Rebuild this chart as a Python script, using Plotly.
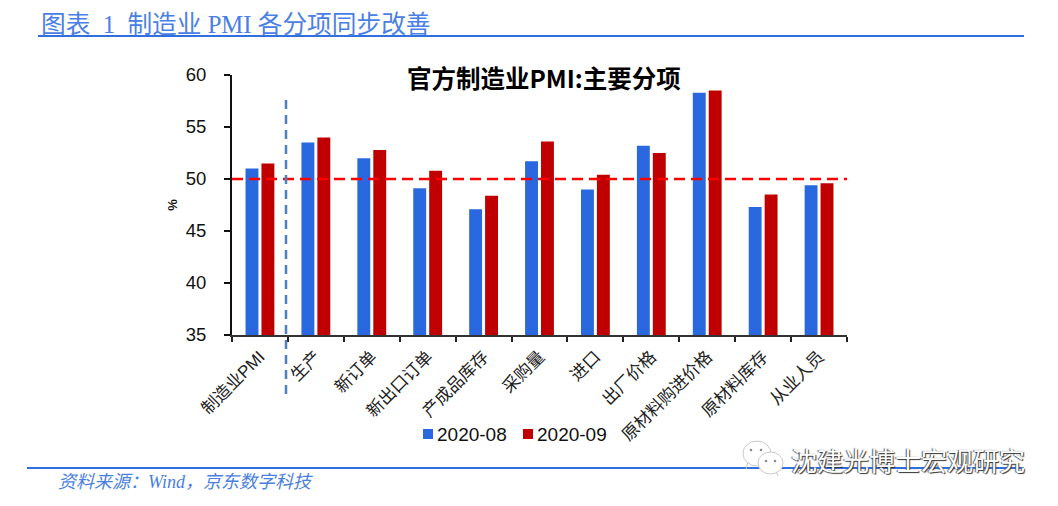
import plotly.graph_objects as go

WIDTH, HEIGHT = 1058, 506
LEFT, RIGHT, TOP, BOTTOM = 232, 847, 75, 335

categories = ["制造业PMI", "生产", "新订单", "新出口订单", "产成品库存", "采购量",
              "进口", "出厂价格", "原材料购进价格", "原材料库存", "从业人员"]
pmi_2020_08 = [51.0, 53.5, 52.0, 49.1, 47.1, 51.7, 49.0, 53.2, 58.3, 47.3, 49.4]
pmi_2020_09 = [51.5, 54.0, 52.8, 50.8, 48.4, 53.6, 50.4, 52.5, 58.5, 48.5, 49.6]
series_names = ["2020-08", "2020-09"]
threshold = 50

BLUE = "#2968DE"
RED = "#C00000"
RULE = "#2F6FDE"
CJK = "Noto Sans CJK SC"
LATIN = "Liberation Sans"


def px(x):
    return (x - LEFT) / (RIGHT - LEFT)


def py(y):
    return (BOTTOM - y) / (BOTTOM - TOP)


fig = go.Figure()
fig.add_bar(name=series_names[0], x=categories, y=pmi_2020_08, marker=dict(color=BLUE, line_width=0))
fig.add_bar(name=series_names[1], x=categories, y=pmi_2020_09, marker=dict(color=RED, line_width=0))


def paper_line(x0, y0, x1, y1, color, width, dash="solid"):
    return dict(type="line", xref="paper", yref="paper", x0=px(x0), x1=px(x1), y0=py(y0), y1=py(y1),
                line=dict(color=color, width=width, dash=dash))


def paper_box(kind, x0, y0, x1, y1, fill, line=None):
    return dict(type=kind, xref="paper", yref="paper", x0=px(x0), x1=px(x1), y0=py(y0), y1=py(y1),
                fillcolor=fill, line=line or dict(width=0))


def bubble(x0, y0, x1, y1):
    return paper_box("circle", x0, y0, x1, y1, "white", dict(color="#C9C9C9", width=1))


def eye(cx, cy):
    return paper_box("circle", cx - 1.3, cy - 1.3, cx + 1.3, cy + 1.3, "#8A8A8A")


shapes = [
    # heading and footer rules
    paper_line(38, 36, 1024, 36, RULE, 2),
    paper_line(27, 468, 1024, 468, RULE, 2),
    # 50 threshold across the plot
    dict(type="line", xref="paper", yref="y", x0=0, x1=1, y0=threshold, y1=threshold,
         line=dict(color="#FF0000", width=2.5, dash="11px,6px")),
    # separator between the headline index and its components
    paper_line(286, 100, 286, 395, "#4A80C4", 2.5, "9px,6px"),
    # legend swatches
    paper_box("rect", 423, 429, 433, 439, BLUE),
    paper_box("rect", 523, 429, 533, 439, RED),
    # chat-bubble badge
    paper_line(748, 462, 746, 469, "#C9C9C9", 1),
    bubble(743, 441, 771, 466),
    eye(751, 450), eye(761, 450),
    paper_line(776, 471, 778, 476, "#C9C9C9", 1),
    bubble(758, 452, 783, 474),
    eye(766, 461), eye(775, 461),
]

annotations = [
    dict(text="图表  1  制造业 PMI 各分项同步改善", xref="paper", yref="paper", x=px(39), y=py(24),
         xanchor="left", yanchor="middle", showarrow=False,
         font=dict(family=f"Liberation Serif, {CJK}", size=24.7, color="#4A80E6")),
    dict(text="<b>官方制造业PMI:主要分项</b>", xref="paper", yref="paper", x=px(544), y=py(78),
         xanchor="center", yanchor="middle", showarrow=False,
         font=dict(family=CJK, size=24.5, color="#000000")),
    dict(text="<i>资料来源\uff1aWind\uff0c京东数字科技</i>", xref="paper", yref="paper", x=px(56), y=py(482),
         xanchor="left", yanchor="middle", showarrow=False,
         font=dict(family=f"Liberation Serif, {CJK}", size=18, color="#4A7FE0")),
    dict(text=series_names[0], xref="paper", yref="paper", x=px(435), y=py(434),
         xanchor="left", yanchor="middle", showarrow=False,
         font=dict(family=LATIN, size=19, color="#111111")),
    dict(text=series_names[1], xref="paper", yref="paper", x=px(535), y=py(434),
         xanchor="left", yanchor="middle", showarrow=False,
         font=dict(family=LATIN, size=19, color="#111111")),
    dict(text="沈建光博士宏观研究", xref="paper", yref="paper", x=px(789), y=py(459),
         xanchor="left", yanchor="middle", showarrow=False,
         font=dict(family=CJK, size=26, color="#FFFFFF",
                   shadow="1px 1px 1px #333, -1px 0 1px #555")),
]

fig.update_layout(
    width=WIDTH, height=HEIGHT,
    margin=dict(l=LEFT, r=WIDTH - RIGHT, t=TOP, b=HEIGHT - BOTTOM, autoexpand=False),
    paper_bgcolor="white", plot_bgcolor="white",
    barmode="group", bargap=0.43, bargroupgap=0.19,
    font=dict(family=LATIN, color="#111111"),
    showlegend=False,
    shapes=shapes, annotations=annotations,
)
fig.update_xaxes(
    type="category", categoryorder="array", categoryarray=categories, range=[-0.5, 10.5],
    showgrid=False, showline=True, linecolor="#333333", linewidth=2,
    ticks="outside", ticklen=5, tickwidth=2, tickcolor="#222222", tickson="boundaries",
    tickangle=-45, tickfont=dict(family=f"Liberation Sans, {CJK}", size=17, color="#222222"),
    ticklabelstandoff=3, automargin=False,
)
fig.update_yaxes(
    range=[35, 60], tick0=35, dtick=5, showgrid=False, zeroline=False,
    showline=True, linecolor="#111111", linewidth=2,
    ticks="outside", ticklen=6, tickwidth=2, tickcolor="#111111",
    tickfont=dict(family=LATIN, size=18.5, color="#111111"), ticklabelstandoff=14,
    title=dict(text="<b>%</b>", font=dict(family=LATIN, size=13, color="#111111"), standoff=5),
    automargin=False,
)

fig.write_html("out.html")
